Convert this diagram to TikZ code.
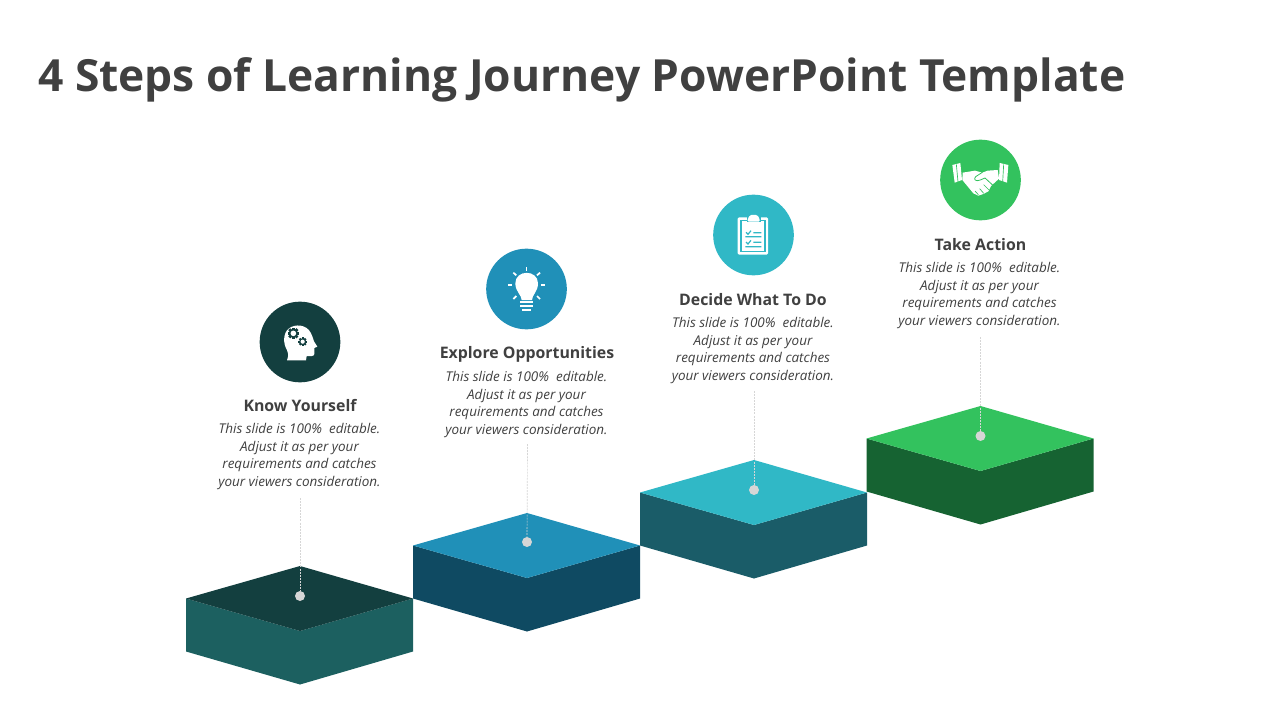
\documentclass[tikz,border=0pt]{standalone}
\usepackage{fontspec}
\setmainfont{Open Sans}
\definecolor{ink}{HTML}{404040}
\definecolor{topa}{HTML}{133F3F}\definecolor{sidea}{HTML}{1C6060}
\definecolor{topb}{HTML}{2090B8}\definecolor{sideb}{HTML}{0F4A62}
\definecolor{topc}{HTML}{30B8C6}\definecolor{sidec}{HTML}{1A5C68}
\definecolor{topd}{HTML}{33C25E}\definecolor{sided}{HTML}{166332}
\definecolor{dotgrey}{HTML}{D6D6D6}
\tikzset{
 x=0.75pt,y=-0.75pt,
 titletext/.style={font=\fontsize{33.25}{38}\selectfont\bfseries,text=ink,anchor=west,inner sep=0},
 headtext/.style={font=\fontsize{11.9}{15}\selectfont\bfseries,text=ink,inner sep=0},
 bodytext/.style={font=\fontsize{10.1}{13.1}\selectfont\itshape,text=ink,inner sep=0,align=center},
 iconcircle/.style={circle,minimum size=60.5pt,inner sep=0},
 dotmark/.style={circle,fill=dotgrey,minimum size=7.5pt,inner sep=0},
 leader/.style={draw=dotgrey,line width=0.5pt,dash pattern=on 1.5pt off 0.8pt},
 icon/.style={fill=white,draw=none},
}
\newcommand{\blocktext}{This slide is 100\%\ \ editable.\\Adjust it as per your\\requirements and catches\\your viewers consideration.}
% #1 x centre, #2 top y, #3 top colour, #4 side colour
\newcommand{\stepblock}[4]{%
 \fill[#4] (#1-114,#2+32.5) -- (#1,#2+65) -- (#1+113,#2+32.5) -- (#1+113,#2+85.5) -- (#1,#2+118.5) -- (#1-114,#2+85.5) -- cycle;
 \fill[#3] (#1-114,#2+32.5) -- (#1,#2) -- (#1+113,#2+32.5) -- (#1,#2+65) -- cycle;
}
\newcommand{\gearicon}[3]{% x y r
 \foreach \a in {0,45,...,315}{\fill[topa,rotate around={\a:(#1,#2)}] (#1-#3*0.3,#2) rectangle (#1+#3*0.3,#2-#3*1.25);}
 \fill[topa] (#1,#2) circle[radius=#3];
 \fill[white] (#1,#2) circle[radius=#3*0.6];
}
\begin{document}
\begin{tikzpicture}
\useasboundingbox (0,0) rectangle (1280,720);
\fill[white] (0,0) rectangle (1280,720);
\node[titletext] (title) at (38,79.5) {4 Steps of Learning Journey PowerPoint Template};

\stepblock{300}{566}{topa}{sidea}
\stepblock{527}{513}{topb}{sideb}
\stepblock{754}{460}{topc}{sidec}
\stepblock{980.5}{406}{topd}{sided}

\node[iconcircle,fill=topa] (c1) at (300,342) {};
\node[iconcircle,fill=topb] (c2) at (526.5,289) {};
\node[iconcircle,fill=topc] (c3) at (753.5,235) {};
\node[iconcircle,fill=topd] (c4) at (980.5,180) {};

\node[headtext] (h1) at (300,406) {Know Yourself};
\node[headtext] (h2) at (527,354) {Explore Opportunities};
\node[headtext] (h3) at (753,300) {Decide What To Do};
\node[headtext] (h4) at (980.5,245) {Take Action};

\node[bodytext] (b1) at (299.5,456.5) {\blocktext};
\node[bodytext] (b2) at (526.5,404.5) {\blocktext};
\node[bodytext] (b3) at (753,350.5) {\blocktext};
\node[bodytext] (b4) at (979.5,295.5) {\blocktext};

\node[dotmark] (d1) at (300,596) {};
\node[dotmark] (d2) at (527,542) {};
\node[dotmark] (d3) at (754,490) {};
\node[dotmark] (d4) at (980.5,436) {};
\coordinate (l1) at (300,498);
\coordinate (l2) at (527.5,444);
\coordinate (l3) at (754,391);
\coordinate (l4) at (980.5,337);
\draw[leader] (l1) -- (d1);
\draw[leader] (l2) -- (d2);
\draw[leader] (l3) -- (d3);
\draw[leader] (l4) -- (d4);

% head with gears
\begin{scope}[shift={(240,290)},x=0.25pt,y=-0.25pt]
 \fill[icon] (141,211) .. controls (146,196) and (146,190) .. (141,180) .. controls (128,160) and (130,128) .. (146,116) .. controls (165,100) and (200,104) .. (212,128) .. controls (218,140) and (220,148) .. (222,154) -- (232,170) -- (223,174) -- (223,192) .. controls (222,200) and (212,198) .. (200,198) -- (198,211) -- cycle;
 \gearicon{160}{130}{14}
 \gearicon{188}{155}{10.5}
\end{scope}
% bulb
\begin{scope}[shift={(470,240)},x=0.25pt,y=-0.25pt]
 \fill[icon] (155,180) .. controls (155,165) and (136,155) .. (136,130) .. controls (136,88) and (204,88) .. (204,130) .. controls (204,155) and (186,165) .. (186,180) -- cycle;
 \fill[icon] (150,184) rectangle (190,190);
 \fill[icon] (150,195) rectangle (190,201);
 \fill[icon] (157,206) rectangle (183,213);
 \draw[white,line width=0.9pt] (170,82) -- (170,92) (114,135) -- (126,135) (214,135) -- (226,135);
 \draw[white,line width=1.3pt] (130,98) -- (139,106) (210,98) -- (201,106) (130,177) -- (139,168) (210,177) -- (201,168);
\end{scope}
% clipboard
\begin{scope}[shift={(700,185)},x=0.25pt,y=-0.25pt]
 \fill[icon,rounded corners=1pt] (113,97) rectangle (204,209);
 \fill[topc] (120,104) rectangle (197,201);
 \fill[icon] (125,108) rectangle (192,197);
 \fill[topc] (140,92) rectangle (182,112);
 \fill[icon,rounded corners=1pt] (144,100) -- (150,90) -- (172,90) -- (178,100) -- (180,110) -- (142,110) -- cycle;
 \draw[topc,line width=0.9pt] (138,142) -- (144,148) -- (153,137) (160,143) -- (184,143) (136,155) -- (184,155)
  (138,171) -- (144,177) -- (153,166) (160,172) -- (184,172) (136,185) -- (184,185);
\end{scope}
% handshake
\begin{scope}[shift={(925,130)},x=0.25pt,y=-0.25pt]
 \fill[icon] (82,105) -- (106,99) -- (111,150) -- (89,158) -- cycle;
 \fill[icon] (224,99) -- (250,105) -- (246,158) -- (222,150) -- cycle;
 \draw[topd,line width=0.5pt] (94,103) -- (99,156) (236,103) -- (233,156);
 \fill[icon] (113,128) -- (150,122) -- (172,128) -- (188,122) -- (218,120) -- (222,146) -- (198,168) -- (190,184) -- (175,192) -- (160,197) -- (145,190) -- (112,150) -- cycle;
 \draw[topd,line width=0.6pt,line join=round] (172,127) -- (152,140) .. controls (144,148) and (152,156) .. (166,150) -- (180,144) -- (206,168);
 \draw[topd,line width=0.5pt] (192,180) -- (176,164) (176,190) -- (164,176) (160,194) -- (150,183);
\end{scope}
\end{tikzpicture}
\end{document}
